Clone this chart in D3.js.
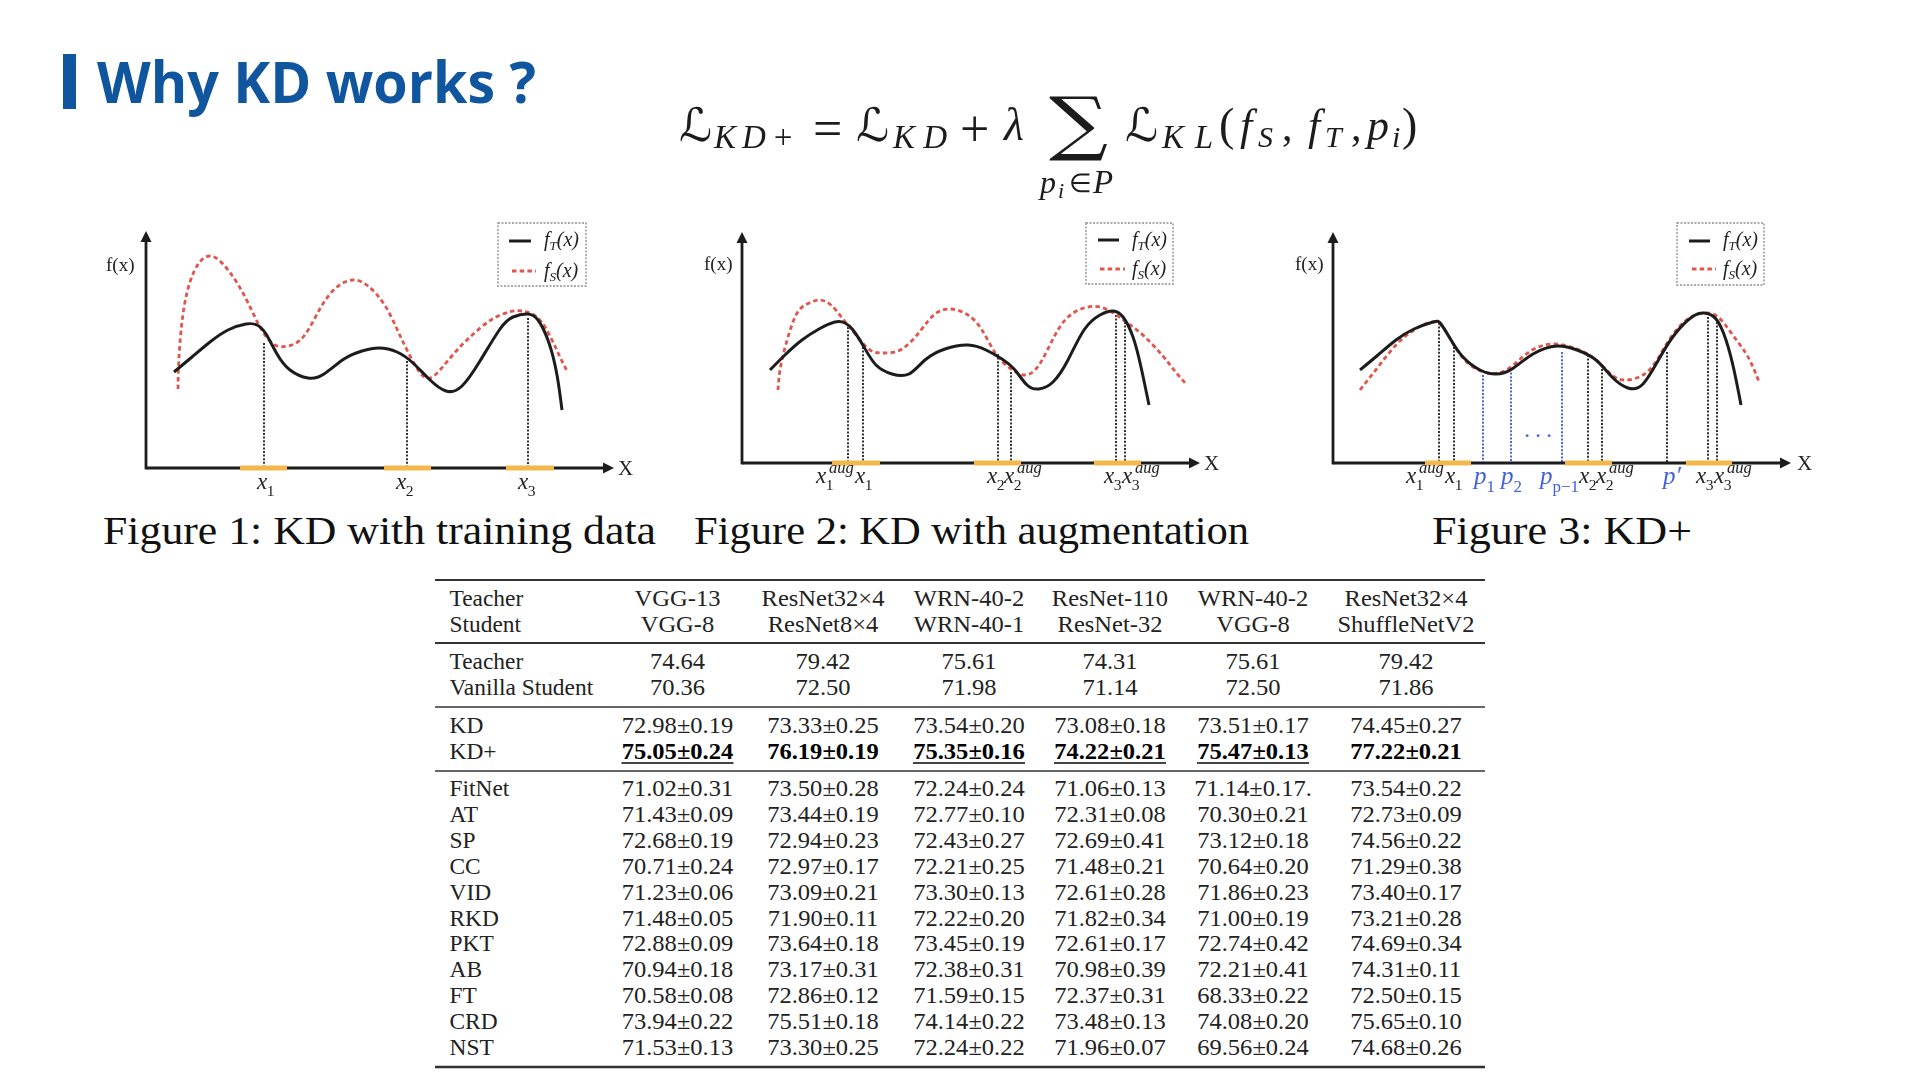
<!DOCTYPE html>
<html>
<head>
<meta charset="utf-8">
<script src="https://cdn.jsdelivr.net/npm/d3@7"></script>
<style>
  html, body { margin: 0; padding: 0; background: #fff; }
  svg { display: block; }
  .serif { font-family: "Liberation Serif", serif; }
</style>
</head>
<body>
<svg id="svg" width="1919" height="1080"></svg>
<script>
// curve values are [x, y], in units along the axes
const teacher1 = [[28,96],[46,111],[64,126],[82,138],[100,144],[111,143],[120,134],[131,114],[144,98],[162,90],[178,94],[198,109],[216,117],[233,120],[251,116],[267,105],[283,89],[300,77],[316,82],[334,107],[354,139],[367,151],[381,154],[392,148],[403,125],[411,93],[416,58]];
const student1 = [[32,79],[33,111],[37,154],[44,186],[53,205],[64,212],[77,204],[93,182],[106,157],[117,136],[129,123],[142,122],[158,132],[175,161],[191,181],[207,188],[222,182],[238,164],[251,139],[262,116],[276,93],[289,93],[305,111],[323,130],[345,148],[363,156],[376,157],[392,150],[405,130],[414,111],[421,97]];
const teacher2 = [[28,93],[44,109],[60,123],[77,134],[93,141],[103,140],[111,133],[122,116],[134,98],[150,89],[167,89],[183,103],[203,114],[226,118],[244,113],[260,104],[273,93],[285,78],[297,74],[311,81],[326,103],[342,133],[358,148],[371,152],[381,146],[391,126],[399,96],[407,58]];
const student2 = [[36,73],[38,93],[44,119],[54,148],[65,159],[77,163],[89,158],[101,144],[114,128],[128,113],[142,110],[160,114],[179,133],[193,149],[209,154],[226,148],[240,133],[254,109],[269,94],[283,88],[297,98],[312,126],[326,146],[342,155],[358,156],[373,149],[387,139],[403,126],[420,108],[432,93],[444,79]];
const teacher3 = [[27,93],[45,108],[63,123],[81,134],[100,141],[108,139],[118,123],[130,106],[147,93],[163,89],[179,94],[200,109],[224,117],[244,113],[263,103],[279,86],[295,75],[310,79],[326,104],[342,129],[359,146],[371,150],[383,144],[393,123],[401,93],[408,58]];
const student3 = [[27,73],[45,96],[63,118],[81,133],[100,141],[112,133],[122,116],[136,99],[155,90],[175,94],[196,111],[220,119],[244,114],[263,103],[279,88],[293,83],[310,88],[324,103],[338,126],[355,144],[371,150],[385,146],[399,129],[412,111],[420,96],[426,81]];

// dotted drop lines: [x, height at the curve]
const drops1 = [[118,125],[261,107],[382,150]];
const drops2 = [[106,136],[121,116],[256,109],[269,91],[374,148],[383,141]];
const drops3 = [[106,140],[121,116],[255,108],[269,94],[334,111],[375,146],[384,141]];
const dropsBlue3 = [[150,88],[178,94],[229,111]];

// orange spans along the x axis: [from, to]
const spans1 = [[94,141],[238,285],[360,408]];
const spans2 = [[90,138],[232,279],[352,399]];
const spans3 = [[92,138],[232,279],[353,399]];

const captions = ["Figure 1: KD with training data", "Figure 2: KD with augmentation", "Figure 3: KD+"];

// table
const teacherNets = ["VGG-13", "ResNet32×4", "WRN-40-2", "ResNet-110", "WRN-40-2", "ResNet32×4"];
const studentNets = ["VGG-8", "ResNet8×4", "WRN-40-1", "ResNet-32", "VGG-8", "ShuffleNetV2"];
const teacherAcc = ["74.64", "79.42", "75.61", "74.31", "75.61", "79.42"];
const vanillaAcc = ["70.36", "72.50", "71.98", "71.14", "72.50", "71.86"];
const kdAcc = ["72.98±0.19", "73.33±0.25", "73.54±0.20", "73.08±0.18", "73.51±0.17", "74.45±0.27"];
const kdPlusAcc = ["75.05±0.24", "76.19±0.19", "75.35±0.16", "74.22±0.21", "75.47±0.13", "77.22±0.21"];
const kdPlusUnderlined = [true, false, true, true, true, false];
const methodNames = ["FitNet", "AT", "SP", "CC", "VID", "RKD", "PKT", "AB", "FT", "CRD", "NST"];
const fitnetAcc = ["71.02±0.31", "73.50±0.28", "72.24±0.24", "71.06±0.13", "71.14±0.17.", "73.54±0.22"];
const atAcc = ["71.43±0.09", "73.44±0.19", "72.77±0.10", "72.31±0.08", "70.30±0.21", "72.73±0.09"];
const spAcc = ["72.68±0.19", "72.94±0.23", "72.43±0.27", "72.69±0.41", "73.12±0.18", "74.56±0.22"];
const ccAcc = ["70.71±0.24", "72.97±0.17", "72.21±0.25", "71.48±0.21", "70.64±0.20", "71.29±0.38"];
const vidAcc = ["71.23±0.06", "73.09±0.21", "73.30±0.13", "72.61±0.28", "71.86±0.23", "73.40±0.17"];
const rkdAcc = ["71.48±0.05", "71.90±0.11", "72.22±0.20", "71.82±0.34", "71.00±0.19", "73.21±0.28"];
const pktAcc = ["72.88±0.09", "73.64±0.18", "73.45±0.19", "72.61±0.17", "72.74±0.42", "74.69±0.34"];
const abAcc = ["70.94±0.18", "73.17±0.31", "72.38±0.31", "70.98±0.39", "72.21±0.41", "74.31±0.11"];
const ftAcc = ["70.58±0.08", "72.86±0.12", "71.59±0.15", "72.37±0.31", "68.33±0.22", "72.50±0.15"];
const crdAcc = ["73.94±0.22", "75.51±0.18", "74.14±0.22", "73.48±0.13", "74.08±0.20", "75.65±0.10"];
const nstAcc = ["71.53±0.13", "73.30±0.25", "72.24±0.22", "71.96±0.07", "69.56±0.24", "74.68±0.26"];

const svg = d3.select("#svg");
const INK = "#1c1c1c";
const RED = "#e0574f";
const BLUE = "#4060dc";
const ORANGE = "#f2b84b";

// the figures in the reference are soft, a pasted bitmap
const defs = svg.append("defs");
const blur = defs.append("filter").attr("id", "soft")
  .attr("x", "-5%").attr("y", "-5%").attr("width", "110%").attr("height", "110%");
blur.append("feGaussianBlur").attr("stdDeviation", 0.5);

// title
svg.append("rect").attr("x", 63).attr("y", 54).attr("width", 13).attr("height", 55).attr("fill", "#0f569f");
svg.append("text")
  .attr("x", 97).attr("y", 103)
  .attr("font-family", "'Open Sans', 'Noto Sans', sans-serif")
  .attr("font-weight", 700)
  .attr("font-size", 57)
  .attr("fill", "#0f569f")
  .attr("textLength", 439)
  .attr("lengthAdjust", "spacingAndGlyphs")
  .text("Why KD works ?");

// formula, glued together piece by piece
const script = "'DejaVu Serif', 'DejaVu Sans', serif";
const mathPieces = [
  { t: "ℒ", x: 679, y: 141, s: 46, f: script },
  { t: "KD+", x: 714, y: 148, s: 33, i: true, w: 80 },
  { t: "=", x: 813, y: 146, s: 52 },
  { t: "ℒ", x: 856, y: 141, s: 46, f: script },
  { t: "KD", x: 893, y: 148, s: 33, i: true, w: 54 },
  { t: "+", x: 960, y: 146, s: 52 },
  { t: "λ", x: 1004, y: 140, s: 46, i: true },
  { t: "∑", x: 1049, y: 147, s: 70, f: script, w: 59, stretch: true },
  { t: "ℒ", x: 1125, y: 141, s: 46, f: script },
  { t: "KL", x: 1162, y: 148, s: 33, i: true, w: 51 },
  { t: "(", x: 1219, y: 140, s: 46 },
  { t: "f", x: 1240, y: 140, s: 44, i: true },
  { t: "S", x: 1258, y: 147, s: 30, i: true },
  { t: ",", x: 1282, y: 140, s: 42 },
  { t: "f", x: 1308, y: 140, s: 44, i: true },
  { t: "T", x: 1325, y: 147, s: 30, i: true },
  { t: ",", x: 1351, y: 140, s: 42 },
  { t: "p", x: 1367, y: 140, s: 44, i: true },
  { t: "i", x: 1392, y: 147, s: 30, i: true },
  { t: ")", x: 1402, y: 140, s: 46 },
  { t: "p", x: 1040, y: 193, s: 32, i: true },
  { t: "i", x: 1058, y: 198, s: 22, i: true },
  { t: "∈", x: 1069, y: 192, s: 26 },
  { t: "P", x: 1093, y: 193, s: 33, i: true }
];
svg.append("g").attr("filter", "url(#soft)").selectAll("text")
  .data(mathPieces).join("text")
  .attr("x", d => d.x).attr("y", d => d.y)
  .attr("font-family", d => d.f || "'Liberation Serif', serif")
  .attr("font-style", d => d.i ? "italic" : "normal")
  .attr("font-size", d => d.s)
  .attr("fill", INK)
  .attr("textLength", d => d.w || null)
  .attr("lengthAdjust", d => d.stretch ? "spacingAndGlyphs" : "spacing")
  .text(d => d.t);

// label made of a base, optional sub and sup, base starting at x
function mathLabel(g, x, y, base, sub, sup, color, size) {
  g.append("text").attr("x", x).attr("y", y)
    .attr("class", "serif").attr("font-style", "italic")
    .attr("font-size", size).attr("fill", color).text(base);
  const step = base === "p" ? size * 0.5 : size * 0.42;
  if (sub) {
    g.append("text").attr("x", x + step).attr("y", y + size * 0.3)
      .attr("class", "serif").attr("font-style", /\d/.test(sub) ? "normal" : "italic")
      .attr("font-size", size * 0.68).attr("fill", color).text(sub);
  }
  if (sup) {
    g.append("text").attr("x", x + size * 0.56).attr("y", y - size * 0.42)
      .attr("class", "serif").attr("font-style", "italic")
      .attr("font-size", size * 0.72).attr("fill", color).text(sup);
  }
}

function drawFigure(cfg) {
  const g = svg.append("g").attr("filter", "url(#soft)");
  const x = d3.scaleLinear().domain([0, cfg.len]).range([cfg.x0, cfg.x0 + cfg.len]);
  const y = d3.scaleLinear().domain([0, cfg.h]).range([cfg.y0, cfg.y0 - cfg.h]);
  const line = d3.line().x(d => x(d[0])).y(d => y(d[1])).curve(d3.curveNatural);

  // dotted drops under the curves
  g.selectAll(".drop").data(cfg.drops).join("line")
    .attr("x1", d => x(d[0])).attr("x2", d => x(d[0]))
    .attr("y1", d => y(d[1])).attr("y2", y(0))
    .attr("stroke", "#333").attr("stroke-width", 2).attr("stroke-dasharray", "2 1.6");
  g.selectAll(".dropb").data(cfg.dropsBlue || []).join("line")
    .attr("x1", d => x(d[0])).attr("x2", d => x(d[0]))
    .attr("y1", d => y(d[1])).attr("y2", y(0))
    .attr("stroke", BLUE).attr("stroke-width", 1.9).attr("stroke-dasharray", "2 1.6");

  // axes
  g.append("line").attr("x1", x(0)).attr("x2", x(cfg.len) - 8).attr("y1", y(0)).attr("y2", y(0))
    .attr("stroke", INK).attr("stroke-width", 2.8);
  g.append("line").attr("x1", x(0)).attr("x2", x(0)).attr("y1", y(0) + 1.4).attr("y2", y(cfg.h) + 8)
    .attr("stroke", INK).attr("stroke-width", 2.8);
  g.append("path")
    .attr("d", `M${x(cfg.len)},${y(0)}l-11,-5.5v11z`).attr("fill", INK);
  g.append("path")
    .attr("d", `M${x(0)},${y(cfg.h)}l-5.5,11h11z`).attr("fill", INK);

  // orange spans
  g.selectAll(".span").data(cfg.spans).join("line")
    .attr("x1", d => x(d[0])).attr("x2", d => x(d[1]))
    .attr("y1", y(0)).attr("y2", y(0))
    .attr("stroke", ORANGE).attr("stroke-width", 5);

  // curves
  g.append("path").attr("d", line(cfg.student)).attr("fill", "none")
    .attr("stroke", RED).attr("stroke-width", 2.8).attr("stroke-dasharray", "4.5 3.2");
  g.append("path").attr("d", line(cfg.teacher)).attr("fill", "none")
    .attr("stroke", INK).attr("stroke-width", 3);

  // axis names
  g.append("text").attr("x", cfg.fx[0]).attr("y", cfg.fx[1]).attr("class", "serif")
    .attr("font-size", 19).attr("fill", "#222").text("f(x)");
  g.append("text").attr("x", cfg.xName[0]).attr("y", cfg.xName[1]).attr("class", "serif")
    .attr("font-size", 21).attr("fill", "#222").text("X");

  // legend
  const lg = cfg.legend;
  g.append("rect").attr("x", lg.box[0]).attr("y", lg.box[1]).attr("width", lg.box[2]).attr("height", lg.box[3])
    .attr("fill", "#fff").attr("stroke", "#aaa").attr("stroke-width", 1.8).attr("stroke-dasharray", "2 1.5");
  g.append("line").attr("x1", lg.black[0]).attr("x2", lg.black[1]).attr("y1", lg.black[2]).attr("y2", lg.black[2])
    .attr("stroke", INK).attr("stroke-width", 3);
  g.append("line").attr("x1", lg.red[0]).attr("x2", lg.red[1]).attr("y1", lg.red[2]).attr("y2", lg.red[2])
    .attr("stroke", RED).attr("stroke-width", 2.8).attr("stroke-dasharray", "4.5 3.2");
  [["T", lg.text[1]], ["S", lg.text[2]]].forEach(([s, ty]) => {
    const t = g.append("text").attr("x", lg.text[0]).attr("y", ty).attr("class", "serif")
      .attr("font-style", "italic").attr("font-size", 20).attr("fill", "#222");
    t.append("tspan").text("f");
    t.append("tspan").attr("font-size", 13).attr("dy", 4).text(s);
    t.append("tspan").attr("dy", -4).text("(x)");
  });

  // tick labels below the axis
  cfg.labels.forEach(l => mathLabel(g, l[0], l[1], l[2], l[3], l[4], l[5] || "#222", l[6] || 23));

  // caption
  svg.append("text").attr("x", cfg.cap[0]).attr("y", 544).attr("class", "serif")
    .attr("font-size", 41).attr("fill", "#111")
    .attr("textLength", cfg.cap[1]).attr("lengthAdjust", "spacingAndGlyphs")
    .text(cfg.caption);
}

drawFigure({
  x0: 146, y0: 468, len: 468, h: 237,
  teacher: teacher1, student: student1, drops: drops1, spans: spans1, caption: captions[0],
  cap: [103, 553], fx: [106, 271], xName: [618, 475],
  legend: { box: [498, 223, 88, 63], black: [509, 531, 241], red: [512, 536, 271], text: [544, 246, 277] },
  labels: [[257, 489, "x", "1"], [396, 489, "x", "2"], [518, 489, "x", "3"]]
});
drawFigure({
  x0: 742, y0: 463, len: 458, h: 231,
  teacher: teacher2, student: student2, drops: drops2, spans: spans2, caption: captions[1],
  cap: [694, 555], fx: [704, 270], xName: [1204, 470],
  legend: { box: [1086, 223, 87, 61], black: [1098, 1119, 240], red: [1100, 1125, 269], text: [1132, 246, 275] },
  labels: [[816, 483, "x", "1", "aug"], [855, 483, "x", "1"], [987, 483, "x", "2"], [1004, 483, "x", "2", "aug"],
    [1104, 483, "x", "3"], [1122, 483, "x", "3", "aug"]]
});
drawFigure({
  x0: 1333, y0: 463, len: 458, h: 231,
  teacher: teacher3, student: student3, drops: drops3, dropsBlue: dropsBlue3, spans: spans3, caption: captions[2],
  cap: [1432, 260], fx: [1295, 270], xName: [1797, 470],
  legend: { box: [1677, 223, 87, 62], black: [1689, 1710, 241], red: [1692, 1716, 269], text: [1723, 246, 275] },
  labels: [[1406, 483, "x", "1", "aug"], [1445, 483, "x", "1"],
    [1474, 484, "p", "1", null, BLUE, 25], [1501, 484, "p", "2", null, BLUE, 25], [1540, 484, "p", "p−1", null, BLUE, 25],
    [1579, 483, "x", "2"], [1596, 483, "x", "2", "aug"],
    [1663, 484, "p′", null, null, BLUE, 25],
    [1696, 483, "x", "3"], [1714, 483, "x", "3", "aug"]]
});
svg.append("text").attr("x", 1523).attr("y", 443).attr("class", "serif")
  .attr("font-size", 24).attr("fill", BLUE).attr("letter-spacing", 3).text("···");

// table, the text in the reference is a little wider than the font
const colX = [677.5, 823, 969, 1110, 1253, 1406];
const tableLeft = 435, tableRight = 1485, labelX = 449.5;
const table = svg.append("g").attr("class", "serif").attr("font-size", 22.5).attr("fill", "#222");

function widen(sel, k) {
  sel.each(function() {
    const w = this.getComputedTextLength();
    d3.select(this).attr("textLength", w * k).attr("lengthAdjust", "spacingAndGlyphs");
  });
}

function tableRow(label, cells, baseline, bold) {
  widen(table.append("text").attr("x", labelX).attr("y", baseline).text(label), 1.04);
  widen(table.selectAll(null).data(cells).join("text")
    .attr("x", (d, i) => colX[i]).attr("y", baseline)
    .attr("text-anchor", "middle")
    .attr("font-weight", bold ? 700 : 400)
    .attr("fill", bold ? "#000" : "#222")
    .text(d => d), 1.09);
}

tableRow("Teacher", teacherNets, 606);
tableRow("Student", studentNets, 632);
tableRow("Teacher", teacherAcc, 669);
tableRow("Vanilla Student", vanillaAcc, 695);
tableRow("KD", kdAcc, 733);
tableRow("KD+", kdPlusAcc, 759, true);

const methodRows = [fitnetAcc, atAcc, spAcc, ccAcc, vidAcc, rkdAcc, pktAcc, abAcc, ftAcc, crdAcc, nstAcc];
const rowY = d3.scalePoint().domain(methodNames).range([796, 1055]);
methodNames.forEach((name, i) => tableRow(name, methodRows[i], rowY(name)));

// underlines under the best KD+ scores
table.selectAll(null).data(kdPlusUnderlined.map((u, i) => u ? colX[i] : null).filter(v => v !== null)).join("line")
  .attr("x1", d => d - 56).attr("x2", d => d + 56)
  .attr("y1", 763).attr("y2", 763)
  .attr("stroke", "#444").attr("stroke-width", 1.8);

// table rules
const rules = [[580, 2.2], [643, 2], [707, 1.5], [771, 1.5], [1067, 2.4]];
table.selectAll(null).data(rules).join("line")
  .attr("x1", tableLeft).attr("x2", tableRight)
  .attr("y1", d => d[0]).attr("y2", d => d[0])
  .attr("stroke", "#333").attr("stroke-width", d => d[1]);
</script>
</body>
</html>
